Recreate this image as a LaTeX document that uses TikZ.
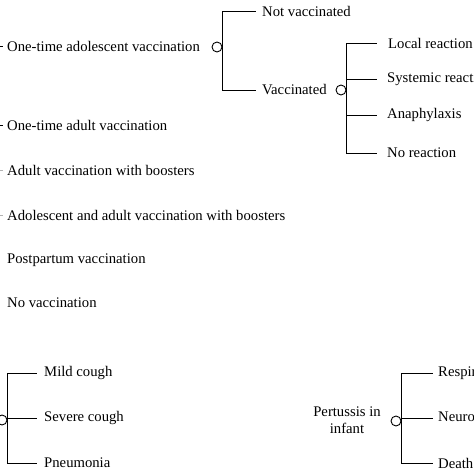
\documentclass[tikz,border=0pt]{standalone}
\usepackage{fontspec}
\setmainfont{Liberation Serif}
\begin{document}
\begin{tikzpicture}[x=1pt,y=-1pt,
  lbl/.style={anchor=west,inner sep=0pt,font=\fontsize{14.7}{16}\selectfont},
  chance/.style={circle,draw,line width=0.9pt,minimum size=10pt,inner sep=0pt},
  br/.style={line width=0.9pt}]
\useasboundingbox (0,0) rectangle (474,474);
\clip (0,0) rectangle (474,474);
% top strategy tree
\node[lbl] (ota) at (7,46) {One-time adolescent vaccination};
\node[chance] (c1) at (217,47) {};
\node[lbl] (nv) at (262,11) {Not vaccinated};
\node[lbl] (vac) at (262,90) {Vaccinated};
\node[chance] (c2) at (341,90) {};
\node[lbl] (lr) at (388,43) {Local reaction};
\node[lbl] (sr) at (387,79) {Systemic reaction};
\node[lbl] (an) at (387,115) {Anaphylaxis};
\node[lbl] (nr) at (387,153) {No reaction};
\draw[br] (c1.east) |- ([xshift=-6pt]nv.west);
\draw[br] (c1.east) |- ([xshift=-6pt]vac.west);
\draw[br] (c2.east) |- ([xshift=-11pt]lr.west);
\draw[br] (c2.east) |- ([xshift=-10pt]sr.west);
\draw[br] (c2.east) |- ([xshift=-10pt]an.west);
\draw[br] (c2.east) |- ([xshift=-10pt]nr.west);
% strategy list
\node[lbl] (ota2) at (7,125) {One-time adult vaccination};
\node[lbl] (avb) at (7,170) {Adult vaccination with boosters};
\node[lbl] (aav) at (7,215) {Adolescent and adult vaccination with boosters};
\node[lbl] (pv) at (7,260) {Postpartum vaccination};
\node[lbl] (nov) at (7,303) {No vaccination};
\coordinate (t1) at (0,46);
\coordinate (t2) at (0,125);
\coordinate (t3) at (0,170);
\coordinate (t4) at (0,215);
\draw[br] (t1) -- ([xshift=-4pt]ota.west);
\draw[br] (t2) -- ([xshift=-4pt]ota2.west);
\draw[br,gray!60] (t3) -- ([xshift=-4pt]avb.west);
\draw[br,gray!60] (t4) -- ([xshift=-4pt]aav.west);
% bottom-left tree
\node[chance] (c4) at (2,420) {};
\node[lbl] (mc) at (44,373) {Mild cough};
\node[lbl] (sc) at (44,418) {Severe cough};
\node[lbl] (pn) at (44,463) {Pneumonia};
\draw[br] (c4.east) |- ([xshift=-7pt]mc.west);
\draw[br] (c4.east) |- ([xshift=-7pt]sc.west);
\draw[br] (c4.east) |- ([xshift=-7pt]pn.west);
% bottom-right tree
\node[lbl,anchor=center,align=center,font=\fontsize{14.7}{17}\selectfont] (pi) at (347,420) {Pertussis in\\infant};
\node[chance] (c3) at (396,421) {};
\node[lbl] (rc) at (438,373) {Respiratory complications};
\node[lbl] (nc) at (438,418) {Neurologic complications};
\node[lbl] (de) at (438,463) {Death};
\draw[br] (c3.east) |- ([xshift=-5pt]rc.west);
\draw[br] (c3.east) |- ([xshift=-5pt]nc.west);
\draw[br] (c3.east) |- ([xshift=-5pt]de.west);
\end{tikzpicture}
\end{document}
